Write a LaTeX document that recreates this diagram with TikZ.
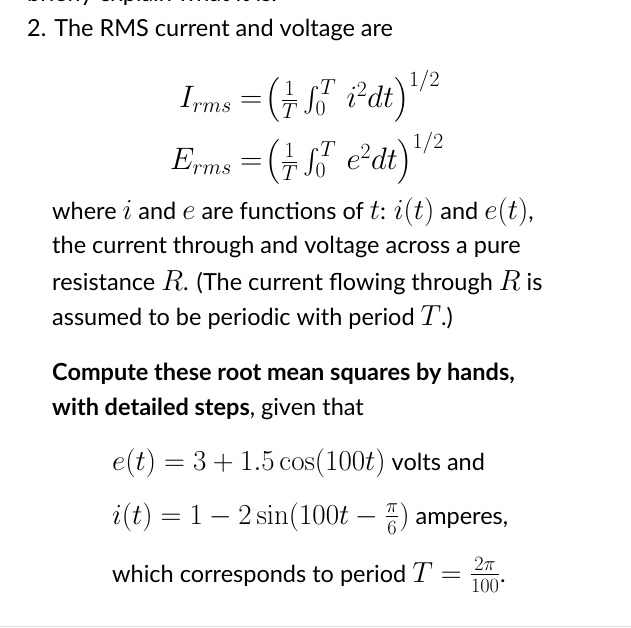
\documentclass[tikz,border=0pt]{standalone}
\usepackage{fix-cm}
\usepackage{amsmath}
\usepackage[no-math]{fontspec}
\setmainfont{Lato}
\newcommand{\mm}[1]{{\fontsize{29}{30}\selectfont$#1$}}
\begin{document}
\begin{tikzpicture}[x=1pt,y=-1pt,
  txt/.style={anchor=base west,inner sep=0pt,font=\fontsize{23.5}{28}\selectfont},
  eq/.style={anchor=base west,inner sep=0pt,font=\fontsize{31}{34}\selectfont}]
\useasboundingbox (0,0) rectangle (631,628);
\node[txt] (t0) at (27,2) {briefly explain what it is.};
\node[txt] (t1) at (27,37) {2. The RMS current and voltage are};
\node[eq,anchor=base east] (i1) at (232,108) {$I_{rms}$};
\node[eq] (i2) at (240,108) {$=\!\left(\frac{1}{T}\int_0^T\, i^2dt\right)^{1/2}$};
\node[eq,anchor=base east] (e1) at (232,170) {$E_{rms}$};
\node[eq] (e2) at (240,170) {$=\!\left(\frac{1}{T}\int_0^T\, e^2dt\right)^{1/2}$};
\node[txt] (p1) at (52,219) {where \mm{i} and \mm{e} are functions of \mm{t}: \mm{i(t)} and \mm{e(t)},};
\node[txt] (p2) at (52,254) {the current through and voltage across a pure};
\node[txt] (p3) at (52,290) {resistance \mm{R}. (The current flowing through \mm{R} is};
\node[txt] (p4) at (52,325) {assumed to be periodic with period \mm{T}.)};
\node[txt] (b1) at (52,380) {\textbf{Compute these root mean squares by hands,}};
\node[txt] (b2) at (52,415) {\textbf{with detailed steps}, given that};
\node[txt] (q1) at (112,470) {\mm{e(t)=3+1.5\cos(100t)} volts and};
\node[txt] (q2) at (112,524) {\mm{i(t)=1-2\sin(100t-\tfrac{\pi}{6})} amperes,};
\node[txt] (q3) at (112,582) {which corresponds to period \mm{T=\tfrac{2\pi}{100}}.};
\draw[gray!25,line width=1pt] (0,626) -- (631,626);
\end{tikzpicture}
\end{document}
